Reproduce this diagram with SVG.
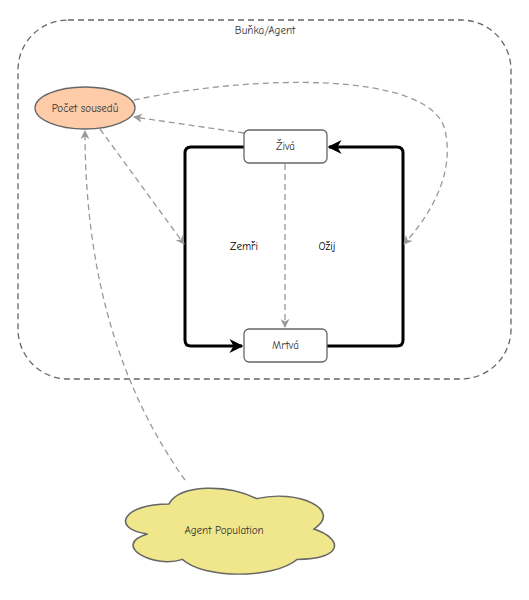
<svg xmlns="http://www.w3.org/2000/svg" width="529" height="600" viewBox="0 0 529 600">
<style>
text{font-family:"Comic Neue","DejaVu Sans","Liberation Sans",sans-serif;font-size:11px;fill:#333;text-anchor:middle;dominant-baseline:central}
.dash{fill:none;stroke:#999;stroke-width:1.3;stroke-dasharray:6 4}
.thick{fill:none;stroke:#000;stroke-width:3;stroke-linejoin:round}
.box{fill:#fff;stroke:#666;stroke-width:1.3}
</style>
<defs>
<marker id="ag" viewBox="0 0 10 10" refX="9" refY="5" markerWidth="9" markerHeight="9" markerUnits="userSpaceOnUse" orient="auto">
<path d="M0,0 L10,5 L0,10 L3,5 Z" fill="#999"/>
</marker>
<marker id="ab" viewBox="0 0 10 10" refX="9" refY="5" markerWidth="14" markerHeight="14" markerUnits="userSpaceOnUse" orient="auto">
<path d="M0,0 L10,5 L0,10 L3,5 Z" fill="#000"/>
</marker>
</defs>
<g id="container">
<rect x="18" y="20" width="493" height="359" rx="50" fill="none" stroke="#666" stroke-width="1.3" stroke-dasharray="6 4"/>
<text x="265" y="30">Buňka/Agent</text>
</g>
<g id="connectors">
<path class="thick" d="M244,147 H191 Q185,147 185,153 V340 Q185,346 191,346 H242" marker-end="url(#ab)"/>
<path class="thick" d="M327,346 H397 Q403,346 403,340 V153 Q403,147 397,147 H329" marker-end="url(#ab)"/>
<path class="dash" d="M244,133 L134,117" marker-end="url(#ag)"/>
<path class="dash" d="M100,129 L184,244" marker-end="url(#ag)"/>
<path class="dash" d="M134,100 C250,75 430,70 445,130 C455,175 430,215 404,244" marker-end="url(#ag)"/>
<path class="dash" d="M285,164 V327" marker-end="url(#ag)"/>
<path class="dash" d="M185,480 Q85,340 85,131" marker-end="url(#ag)"/>
<text x="244" y="246" style="fill:#000">Zemři</text>
<text x="327" y="246" style="fill:#000">Ožij</text>
</g>
<g id="pocet">
<ellipse cx="85" cy="108" rx="50" ry="21" fill="#FFCCAA" stroke="#666" stroke-width="1.3"/>
<text x="85" y="108">Počet sousedů</text>
</g>
<g id="ziva">
<rect class="box" x="244" y="130" width="83" height="33" rx="5"/>
<text x="285.5" y="146.5">Živá</text>
</g>
<g id="mrtva">
<rect class="box" x="244" y="329" width="83" height="33" rx="5"/>
<text x="285.5" y="345.5">Mrtvá</text>
</g>
<g id="population">
<path transform="translate(226,531) scale(1.06,0.98) translate(-226,-531)" d="M172,503.5 C128,503.5 117,529 152,534 C117,545 157,570 185,560 C205,580 271,580 293,560 C337,560 337,539 309,529 C337,509 293,488 255,498 C227,483 183,483 172,503.5 Z" fill="#F0E68C" stroke="#666" stroke-width="1.5"/>
<text x="224" y="530">Agent Population</text>
</g>
</svg>
